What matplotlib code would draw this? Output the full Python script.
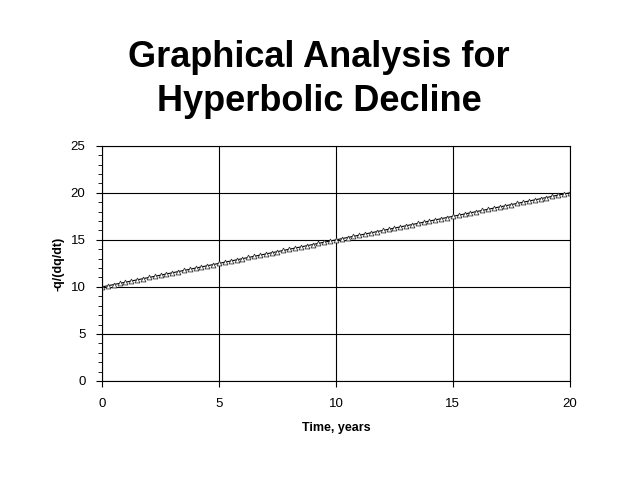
import matplotlib
matplotlib.use("Agg")

import matplotlib.pyplot as plt
from matplotlib.ticker import MultipleLocator

# time (years) and -q/(dq/dt)
time_years = [0.0, 0.25, 0.5, 0.75, 1.0, 1.25, 1.5, 1.75, 2.0, 2.25, 2.5, 2.75, 3.0, 3.25, 3.5, 3.75,
              4.0, 4.25, 4.5, 4.75, 5.0, 5.25, 5.5, 5.75, 6.0, 6.25, 6.5, 6.75, 7.0, 7.25, 7.5, 7.75,
              8.0, 8.25, 8.5, 8.75, 9.0, 9.25, 9.5, 9.75, 10.0, 10.25, 10.5, 10.75, 11.0, 11.25, 11.5, 11.75,
              12.0, 12.25, 12.5, 12.75, 13.0, 13.25, 13.5, 13.75, 14.0, 14.25, 14.5, 14.75, 15.0, 15.25, 15.5, 15.75,
              16.0, 16.25, 16.5, 16.75, 17.0, 17.25, 17.5, 17.75, 18.0, 18.25, 18.5, 18.75, 19.0, 19.25, 19.5, 19.75, 20.0]
loss_ratio = [10.0, 10.125, 10.25, 10.375, 10.5, 10.625, 10.75, 10.875, 11.0, 11.125, 11.25, 11.375, 11.5, 11.625, 11.75, 11.875,
              12.0, 12.125, 12.25, 12.375, 12.5, 12.625, 12.75, 12.875, 13.0, 13.125, 13.25, 13.375, 13.5, 13.625, 13.75, 13.875,
              14.0, 14.125, 14.25, 14.375, 14.5, 14.625, 14.75, 14.875, 15.0, 15.125, 15.25, 15.375, 15.5, 15.625, 15.75, 15.875,
              16.0, 16.125, 16.25, 16.375, 16.5, 16.625, 16.75, 16.875, 17.0, 17.125, 17.25, 17.375, 17.5, 17.625, 17.75, 17.875,
              18.0, 18.125, 18.25, 18.375, 18.5, 18.625, 18.75, 18.875, 19.0, 19.125, 19.25, 19.375, 19.5, 19.625, 19.75, 19.875, 20.0]

plt.rcParams["font.family"] = ["Liberation Sans", "DejaVu Sans"]

fig = plt.figure(figsize=(6.38, 4.78), dpi=100)
fig.text(0.5, 0.88, "Graphical Analysis for", ha="center", va="center", fontsize=26, fontweight="bold")
fig.text(0.5, 0.787, "Hyperbolic Decline", ha="center", va="center", fontsize=26, fontweight="bold")

ax = fig.add_axes([0.16, 0.203, 0.733, 0.492])
ax.plot(time_years, loss_ratio, color="black", linewidth=0.8,
        marker="^", markersize=3.5, markerfacecolor="white", markeredgecolor="#333333", markeredgewidth=0.6)

ax.set_xlim(0, 20)
ax.set_ylim(0, 25)
ax.xaxis.set_major_locator(MultipleLocator(5))
ax.yaxis.set_major_locator(MultipleLocator(5))
ax.yaxis.set_minor_locator(MultipleLocator(1))
ax.grid(True, which="major", color="black", linewidth=0.8)
ax.tick_params(which="both", direction="out", labelsize=9.5, pad=8)
ax.tick_params(which="minor", length=3)
ax.tick_params(which="major", length=4)
for s in ax.spines.values():
    s.set_linewidth(0.8)

ax.set_xlabel("Time, years", fontsize=9, fontweight="bold", labelpad=9)
ax.set_ylabel("-q/(dq/dt)", fontsize=9, fontweight="bold", labelpad=4)

fig.savefig("out.png", dpi=100)
plt.close(fig)
